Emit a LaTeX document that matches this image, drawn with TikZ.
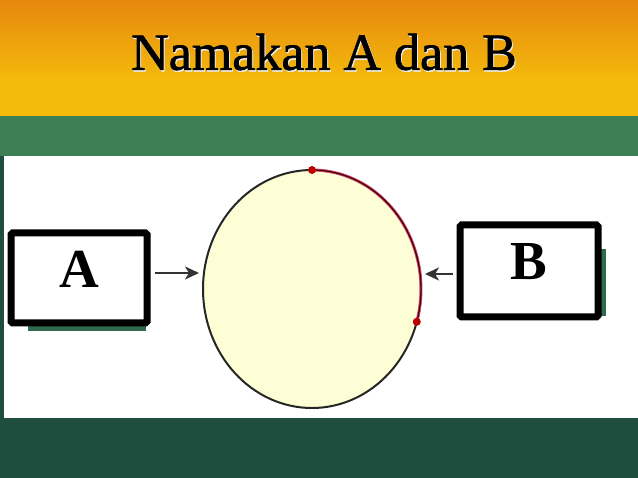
\documentclass[tikz,border=0pt]{standalone}
\usepackage{fontspec}
\setmainfont{Liberation Serif}
\newfontfamily\titlefont[BoldFont={Liberation Serif},BoldFeatures={FakeBold=1.3}]{Liberation Serif}
\usetikzlibrary{shapes.geometric,calc,arrows.meta}
\definecolor{topor}{HTML}{E8880E}
\definecolor{midye}{HTML}{F3BA0C}
\definecolor{band}{HTML}{3D7E55}
\definecolor{dark}{HTML}{1F4E3F}
\definecolor{cellfill}{HTML}{FDFDD6}
\definecolor{memb}{HTML}{D04A7A}
\definecolor{boxshade}{HTML}{2F6B4C}
\begin{document}
\begin{tikzpicture}[x=1pt,y=-1pt,
  labelbox/.style={draw=black,line width=7pt,fill=white,rounded corners=1.5pt,inner sep=0pt},
  arr/.style={draw=black!80,line width=2pt,-{Stealth[length=14pt,width=13pt,inset=4pt]}},
  dot/.style={circle,fill=red!75!black,inner sep=0pt,minimum size=8pt}]
\useasboundingbox (0,0) rectangle (638,478);
% backgrounds
\shade[top color=topor,bottom color=midye] (0,0) rectangle (638,80);
\fill[midye] (0,80) rectangle (638,116);
\fill[band] (0,116) rectangle (638,156);
\fill[dark] (0,156) rectangle (638,478);
\fill[white] (4,156) rectangle (638,418);
% title
\node[text=white!85!gray] at (325,53.5) {\fontsize{52}{56}\selectfont\titlefont\bfseries Namakan A dan B};
\node[text=black] (title) at (324,52) {\fontsize{52}{56}\selectfont\titlefont\bfseries Namakan A dan B};
% cell
\node[draw=black!85,line width=2pt,fill=cellfill,ellipse,minimum width=218pt,minimum height=238pt,inner sep=0pt] (cell) at (312,289) {};
\draw[memb,line width=3pt] (312,289) ++(-90:109 and 119) arc[start angle=-90,end angle=16,x radius=109,y radius=119];
\draw[black!70!red,line width=1.3pt] (312,289) ++(-90:109 and 119) arc[start angle=-90,end angle=16,x radius=109,y radius=119];
\node[dot] (p1) at ($(312,289)+(-90:109 and 119)$) {};
\node[dot] (p2) at ($(312,289)+(16:109 and 119)$) {};
% shadows
\fill[boxshade] (28,326) rectangle (146,331);
\fill[boxshade] (601,249) rectangle (606,316);
% boxes
\node[labelbox,minimum width=136pt,minimum height=90pt] (A) at (79,278) {};
\node (Atxt) at (79,269) {\fontsize{55}{55}\selectfont\bfseries A};
\node[labelbox,minimum width=138pt,minimum height=92pt] (B) at (529,271) {};
\node (Btxt) at (529,262) {\fontsize{55}{55}\selectfont\bfseries B};
% arrows
\draw[arr] (A.east |- 0,273) ++(4,0) coordinate (a1) -- (199,273) coordinate (a2);
\draw[arr] (B.west |- 0,274) ++(-4,0) -- (425,274);
\end{tikzpicture}
\end{document}
